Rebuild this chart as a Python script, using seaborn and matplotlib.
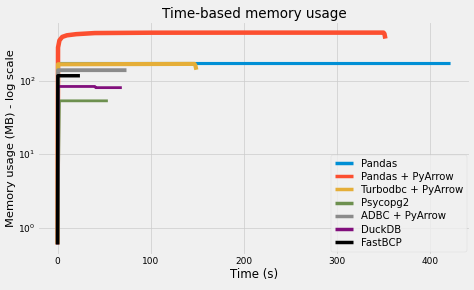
import matplotlib
matplotlib.use("Agg")
import matplotlib.pyplot as plt
import seaborn as sns
import pandas as pd

plt.style.use("fivethirtyeight")

# ---- data ----
pandas_t = [0, 0.5, 422]
pandas_mb = [0.6, 170, 170]

pa_t = [0, 0.5, 2, 5, 10, 20, 40, 100, 200, 350, 351, 352]
pa_mb = [0.6, 280, 350, 390, 410, 425, 440, 445, 446, 446, 430, 370]

turbo_t = [0, 0.5, 147, 148, 149]
turbo_mb = [0.6, 166, 168, 160, 140]

psy_t = [0, 2, 54]
psy_mb = [0.6, 53, 53]

adbc_t = [0, 0.5, 74]
adbc_mb = [0.6, 138, 138]

duck_t = [0, 0.5, 40, 41, 69]
duck_mb = [0.6, 83, 83, 80, 80]

fast_t = [0, 0.3, 24]
fast_mb = [0.6, 116, 116]

series = [
    ("Pandas", pandas_t, pandas_mb, "#008fd5", 4.5),
    ("Pandas + PyArrow", pa_t, pa_mb, "#fc4f30", 6.5),
    ("Turbodbc + PyArrow", turbo_t, turbo_mb, "#e5ae38", 6.0),
    ("Psycopg2", psy_t, psy_mb, "#6d904f", 4.0),
    ("ADBC + PyArrow", adbc_t, adbc_mb, "#8b8b8b", 5.5),
    ("DuckDB", duck_t, duck_mb, "#810f7c", 4.0),
    ("FastBCP", fast_t, fast_mb, "black", 5.0),
]

fig = plt.figure(figsize=(9.48, 5.8), dpi=50)
ax = fig.add_axes([0.08, 0.121, 0.912, 0.803])

for name, t, mb, color, lw in series:
    df = pd.DataFrame({"t": t, "mb": mb})
    sns.lineplot(data=df, x="t", y="mb", ax=ax, color=color, linewidth=lw,
                 estimator=None, sort=False, label=name)

ax.set_yscale("log")
ax.set_title("Time-based memory usage", fontsize=19.5)
ax.set_xlabel("Time (s)", fontsize=17, labelpad=2)
ax.set_ylabel("Memory usage (MB) - log scale", fontsize=16.5)
ax.tick_params(labelsize=13)
ax.set_xticks([0, 100, 200, 300, 400])

leg = ax.legend(loc="lower right", fontsize=14.5, labelspacing=0.32,
                handlelength=1.8, borderaxespad=0.3)
for line in leg.get_lines():
    line.set_linewidth(5)

fig.savefig("out.png", dpi=50)
